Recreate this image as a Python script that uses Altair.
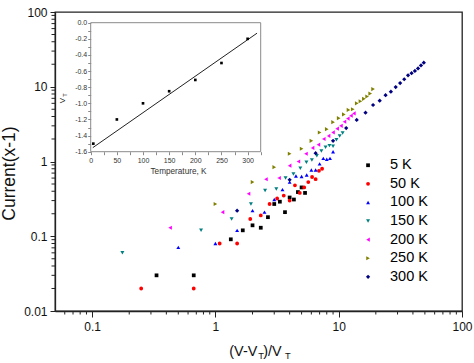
import altair as alt
import pandas as pd

# ---------------- main panel: normalised current vs reduced voltage ----------------
temps = ["5 K", "50 K", "100 K", "150 K", "200 K", "250 K", "300 K"]
colors = ["#000000", "#ff0000", "#0000ff", "#008080", "#ff00ff", "#808000", "#000080"]
shapes = ["square", "circle", "triangle-up", "triangle-down", "triangle-left",
          "triangle-right", "diamond"]
marker_sizes = [14, 18, 22, 22, 22, 22, 22]

x_5K = [0.333, 0.667, 1.333, 1.667, 2.0, 2.333, 2.667, 3.0, 3.333, 3.667, 4.0, 4.333,
        4.667, 5.0, 5.333]
y_5K = [0.030, 0.030, 0.091, 0.12, 0.14, 0.13, 0.18, 0.27, 0.29, 0.21, 0.33, 0.31,
        0.39, 0.45, 0.38]

x_50K = [0.25, 0.667, 1.083, 1.5, 1.917, 2.333, 2.75, 3.167, 3.583, 4.0, 4.417, 4.833,
         5.25, 5.667, 6.083, 6.5, 6.917, 7.333]
y_50K = [0.020, 0.020, 0.080, 0.080, 0.17, 0.19, 0.27, 0.32, 0.35, 0.30, 0.48, 0.38,
         0.45, 0.53, 0.62, 0.58, 0.75, 0.80]

x_100K = [0.5, 1.0, 1.5, 2.0, 2.5, 3.0, 3.5, 4.0, 4.5, 5.0, 5.5, 6.0, 6.5, 7.0, 7.5,
          8.0, 8.5, 9.0]
y_100K = [0.071, 0.080, 0.12, 0.22, 0.21, 0.31, 0.42, 0.53, 0.64, 0.63, 0.66, 0.77,
          0.77, 0.93, 1.10, 1.07, 1.10, 1.35]

x_150K = [0.176, 0.765, 1.353, 1.941, 2.529, 3.118, 3.706, 4.294, 4.882, 5.471, 6.059,
          6.647, 7.235, 7.824, 8.412, 9.0, 9.588, 10.18, 10.76]
y_150K = [0.060, 0.12, 0.17, 0.27, 0.41, 0.43, 0.60, 0.68, 0.81, 0.98, 1.05, 1.19,
          1.38, 1.55, 1.63, 1.60, 1.95, 2.20, 2.40]

x_200K = [0.429, 1.143, 1.857, 2.571, 3.286, 4.0, 4.714, 5.429, 6.143, 6.857, 7.571,
          8.286, 9.0, 9.714, 10.43, 11.14, 11.86, 12.57, 13.29]
y_200K = [0.13, 0.21, 0.37, 0.58, 0.60, 0.88, 1.00, 1.27, 1.52, 1.68, 2.00, 2.20,
          2.45, 2.75, 3.00, 3.40, 3.75, 4.10, 4.40]

x_250K = [1, 2, 3, 4, 5, 6, 7, 8, 9, 10, 11, 12, 13, 14, 15, 16, 17, 18, 19]
y_250K = [0.27, 0.53, 0.84, 1.27, 1.48, 1.89, 2.44, 2.71, 3.36, 3.80, 4.26, 4.90,
          5.00, 6.00, 6.40, 6.90, 7.40, 8.10, 9.30]

x_300K = [1.5, 4, 6.5, 9, 11.5, 14, 16.5, 19, 21.5, 24, 26.5, 29, 31.5, 34, 36.5, 39,
          41.5, 44, 46.5, 49]
y_300K = [0.22, 0.57, 1.29, 1.89, 2.8, 3.6, 4.5, 5.7, 6.5, 7.7, 8.6, 9.9, 11.2, 12.6,
          14.2, 15.2, 16.3, 17.6, 19.3, 21.0]

# ---------------- inset: threshold voltage vs temperature ----------------
inset_T = [5, 50, 100, 150, 200, 250, 300]
inset_VT = [-1.50, -1.20, -1.00, -0.85, -0.71, -0.50, -0.20]
fit_T = [4, 318]
fit_VT = [-1.55, -0.13]

# axis tick positions
x_major = [0.1, 1, 10, 100]
y_major = [0.01, 0.1, 1, 10, 100]
x_minor = [0.06, 0.07, 0.08, 0.09] + [k / 10 for k in range(2, 10)] + \
          list(range(2, 10)) + [k * 10 for k in range(2, 10)]
y_minor = [k / 100 for k in range(2, 10)] + [k / 10 for k in range(2, 10)] + \
          list(range(2, 10)) + [k * 10 for k in range(2, 10)]

FONT = "Liberation Sans"
W, H = 407, 299
AXIS_COLOR = "#222222"

series_x = [x_5K, x_50K, x_100K, x_150K, x_200K, x_250K, x_300K]
series_y = [y_5K, y_50K, y_100K, y_150K, y_200K, y_250K, y_300K]
rows = []
for t, xs, ys in zip(temps, series_x, series_y):
    for a, b in zip(xs, ys):
        rows.append({"T": t, "x": a, "y": b})
df = pd.DataFrame(rows)

x_main = alt.Scale(type="log", domain=[0.05, 100], nice=False)
y_main = alt.Scale(type="log", domain=[0.01, 100], nice=False)

legend = alt.Legend(
    orient="none", legendX=305.8, legendY=146, title=None, padding=0, offset=0,
    labelFont=FONT, labelFontSize=14.5, labelColor="#000000", labelOffset=14.7,
    symbolSize=20, symbolStrokeWidth=0, rowPadding=3.6,
)

points = alt.Chart(df).mark_point(filled=True, opacity=1).encode(
    x=alt.X("x:Q", scale=x_main, axis=alt.Axis(
        values=x_major, format="~g", title=None, grid=False, tickSize=6,
        labelPadding=4, labelFontSize=12, labelFont=FONT, labelColor="#111111",
        labelFlush=False, labelOverlap=False, domainColor=AXIS_COLOR,
        tickColor=AXIS_COLOR, domainWidth=1.3)),
    y=alt.Y("y:Q", scale=y_main, axis=alt.Axis(
        values=y_major, format="~g", grid=False, tickSize=5, labelPadding=3,
        labelFontSize=12, labelFont=FONT, labelColor="#111111", labelFlush=False,
        labelOverlap=False, domainColor=AXIS_COLOR, tickColor=AXIS_COLOR,
        domainWidth=1.3, title="Current(x-1)", titleFont=FONT, titleFontSize=17.5,
        titleFontWeight="normal", titleColor="#111111", titleX=-45.3, titleY=161,
        titleAlign="center", titleBaseline="middle", titleAngle=270)),
    color=alt.Color("T:N", scale=alt.Scale(domain=temps, range=colors), legend=legend),
    shape=alt.Shape("T:N", scale=alt.Scale(domain=temps, range=shapes), legend=legend),
    size=alt.Size("T:N", scale=alt.Scale(domain=temps, range=marker_sizes), legend=None),
)

minor_x_rules = alt.Chart(pd.DataFrame({"v": x_minor})).mark_rule(
    color=AXIS_COLOR, strokeWidth=1).encode(
    x=alt.X("v:Q", scale=x_main, axis=None),
    y=alt.value(H), y2=alt.value(H + 3.5))

minor_y_rules = alt.Chart(pd.DataFrame({"v": y_minor})).mark_rule(
    color=AXIS_COLOR, strokeWidth=1).encode(
    y=alt.Y("v:Q", scale=y_main, axis=None),
    x=alt.value(-3.5), x2=alt.value(0))

one = pd.DataFrame({"k": [0]})


def label(text, x, y, size, angle=0, align="left"):
    return alt.Chart(one).mark_text(
        text=text, font=FONT, fontSize=size, color="#111111", align=align,
        baseline="alphabetic", angle=angle,
    ).encode(x=alt.value(x), y=alt.value(y))


# x-axis title (V-V_T)/V_T with subscripts
x_title = [
    label("(V-V", 174.3, 344, 14.4),
    label("T", 203.3, 347.3, 9.3),
    label(")/V", 208.3, 344, 14.4),
    label("T", 230, 347.3, 9.3),
]

# ---------------- inset layers ----------------
x_in = alt.Scale(domain=[0, 325], range=[35.7, 205.7], nice=False, zero=False)
y_in = alt.Scale(domain=[-1.6, 0.0], range=[139.7, 10.7], nice=False, zero=False)
INSET_GREY = "#8a8a8a"

frame_df = pd.DataFrame({"t0": [0], "t1": [325], "v0": [-1.6], "v1": [0.0]})
inset_frame = alt.Chart(frame_df).mark_rect(
    fill="white", stroke=INSET_GREY, strokeWidth=1).encode(
    x=alt.X("t0:Q", scale=x_in, axis=alt.Axis(
        orient="bottom", offset=-(H - 139.7), zindex=1,
        values=list(range(0, 326, 25)),
        labelExpr="datum.value % 50 == 0 ? datum.label : ''",
        grid=False, domain=False, tickSize=3, tickColor=INSET_GREY,
        labelPadding=1.5, labelFont=FONT, labelFontSize=7, labelColor="#333333",
        labelFlush=False, labelOverlap=False,
        title="Temperature, K", titleFont=FONT, titleFontSize=8.2,
        titleFontWeight="normal", titleColor="#333333", titleX=123, titleY=20,
        titleAlign="center", titleBaseline="middle")),
    x2="t1:Q",
    y=alt.Y("v0:Q", scale=y_in, axis=alt.Axis(
        orient="left", offset=-35.7, zindex=1,
        values=[round(-1.6 + 0.1 * k, 1) for k in range(17)],
        labelExpr="abs(round(datum.value * 10)) % 2 == 0 ? "
                  "replace(format(datum.value, '.1f'), '\u2212', '-') : ''",
        grid=False, domain=False, tickSize=3, tickColor=INSET_GREY,
        labelPadding=1, labelFont=FONT, labelFontSize=7, labelColor="#333333",
        labelFlush=False, labelOverlap=False, title=None)),
    y2="v1:Q",
)

inset_fit = alt.Chart(pd.DataFrame({"T": fit_T, "V": fit_VT})).mark_line(
    color="#222222", strokeWidth=1).encode(
    x=alt.X("T:Q", scale=x_in, axis=None),
    y=alt.Y("V:Q", scale=y_in, axis=None))

inset_pts = alt.Chart(pd.DataFrame({"T": inset_T, "V": inset_VT})).mark_point(
    shape="square", filled=True, size=7, color="#000000", opacity=1).encode(
    x=alt.X("T:Q", scale=x_in, axis=None),
    y=alt.Y("V:Q", scale=y_in, axis=None))

inset_ytitle = [
    label("V", 9.5, 88.5, 8, angle=270, align="center"),
    label("T", 12.3, 83, 5.5, angle=270, align="center"),
]

chart = alt.layer(
    points, minor_x_rules, minor_y_rules, *x_title,
    inset_frame, inset_fit, inset_pts, *inset_ytitle,
).resolve_scale(
    x="independent", y="independent"
).properties(
    width=W, height=H,
    autosize=alt.AutoSizeParams(type="none"),
    padding={"left": 55, "top": 12, "right": 12, "bottom": 52},
    background="white",
).configure(font=FONT).configure_view(stroke=AXIS_COLOR, strokeWidth=1.3)

chart.save("out.html", embed_options={"renderer": "svg", "actions": False})
